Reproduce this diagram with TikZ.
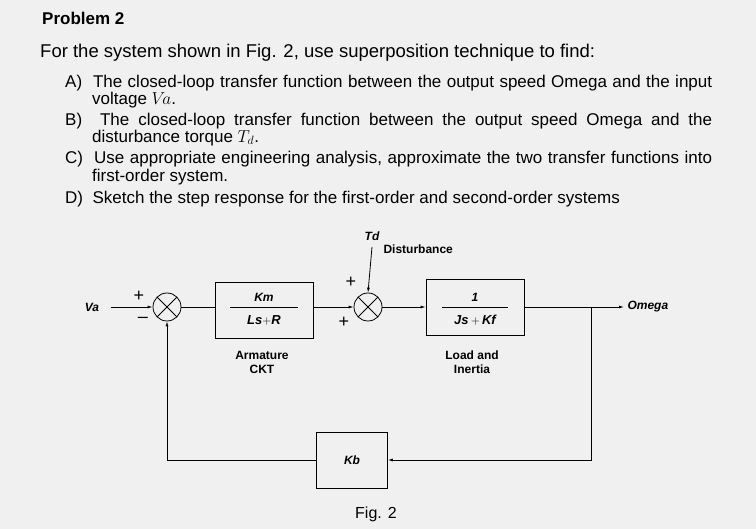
\documentclass[tikz,border=0pt]{standalone}
\usepackage{fontspec}
\setmainfont{Liberation Sans}
\usetikzlibrary{arrows.meta}
\begin{document}
\begin{tikzpicture}[x=1pt,y=-1pt,
  blk/.style={draw,line width=0.8pt,minimum width=98pt,minimum height=56pt,inner sep=0pt},
  sumj/.style={draw,line width=0.8pt,circle,minimum size=28pt,inner sep=0pt,path picture={\draw[line width=0.8pt] (path picture bounding box.south west)--(path picture bounding box.north east) (path picture bounding box.north west)--(path picture bounding box.south east);}},
  lbl/.style={font=\fontsize{12}{14}\selectfont\bfseries,align=center},
  itl/.style={font=\fontsize{12}{14}\selectfont\bfseries\itshape},
  txt/.style={anchor=west,inner sep=0pt,font=\fontsize{17}{19}\selectfont},
  sig/.style={line width=0.8pt,-{Latex[length=5pt,width=3pt]}},
  ln/.style={line width=0.8pt}]
\fill[gray!12] (0,0) rectangle (756,529);
\useasboundingbox (0,0) rectangle (756,529);
\node[txt,font=\fontsize{17}{19}\selectfont\bfseries] (t0) at (42,18) {Problem 2};
\node[txt,font=\fontsize{18.5}{20}\selectfont] (t1) at (40,53) {For the system shown in Fig. 2, use superposition technique to find:};
\node[txt] (t2) at (65,83) {\makebox[647pt][s]{A)\ \ The closed-loop transfer function between the output speed Omega and the input}};
\node[txt] (t3) at (92,100) {voltage $V\!a$.};
\node[txt] (t4) at (65,121) {\makebox[647pt][s]{B)\ \ The closed-loop transfer function between the output speed Omega and the}};
\node[txt] (t5) at (92,138) {disturbance torque $T_d$.};
\node[txt] (t6) at (65,159) {\makebox[647pt][s]{C)\ \ Use appropriate engineering analysis, approximate the two transfer functions into}};
\node[txt] (t7) at (92,177) {first-order system.};
\node[txt] (t8) at (65,199) {D)\ \ Sketch the step response for the first-order and second-order systems};
% diagram
\node[sumj] (s1) at (167,307) {};
\node[blk] (b1) at (264,310) {};
\node[sumj] (s2) at (368,307) {};
\node[blk] (b2) at (475,307) {};
\node[blk,minimum width=71pt,itl] (kb) at (352,460) {Kb};
\draw[ln] (230,307)--(298,307) (442,307)--(508,307);
\node[itl] (n1) at (264,297) {Km};
\node[itl,font=\fontsize{13}{14}\selectfont\bfseries\itshape] (d1) at (264,320) {Ls$+$R};
\node[itl] (n2) at (475,297) {1};
\node[itl,font=\fontsize{13}{14}\selectfont\bfseries\itshape] (d2) at (475,320) {Js\,$+$\,Kf};
\node[lbl] (arm) at (262,362) {Armature\\CKT};
\node[lbl] (ld) at (472,362) {Load and\\Inertia};
\node[itl] (va) at (92,307) {Va};
\node[itl,anchor=west] (om) at (624,307) {Omega};
\node[itl] (td) at (372,236) {Td};
\node[lbl,anchor=west] (dist) at (380,249) {Disturbance};
\coordinate (br) at (591,307);
\draw[sig] (va.east)++(8,0) -- (s1.west);
\draw[ln] (s1.east)--(b1.west|-s1.east);
\draw[sig] (b1.east|-s2.west)--(s2.west);
\draw[sig] (s2.east)--(b2.west);
\draw[sig] (b2.east)--(om.west);
\draw[sig] (td.south)++(0,3)--(s2.north);
\draw[sig] (br)|-(kb.east);
\draw[sig] (kb.west)-|(s1.south);
\node[font=\fontsize{18}{18}\selectfont] (p1) at (139,296) {+};
\node[font=\fontsize{18}{18}\selectfont] (m1) at (143,320) {--};
\node[font=\fontsize{18}{18}\selectfont] (p2) at (351,282) {+};
\node[font=\fontsize{18}{18}\selectfont] (p3) at (344,322) {+};
\node[txt,font=\fontsize{16}{18}\selectfont] (fig) at (355,514) {Fig. 2};
\end{tikzpicture}
\end{document}
